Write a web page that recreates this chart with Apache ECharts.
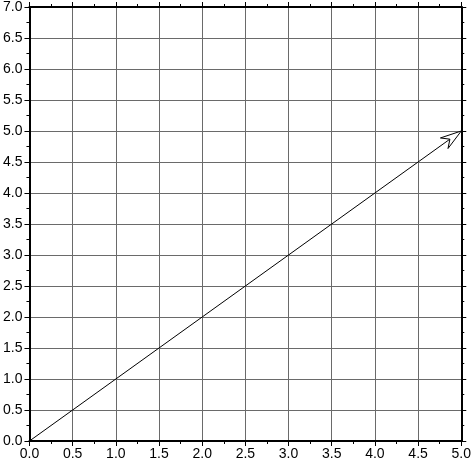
<!DOCTYPE html>
<html>
<head>
<meta charset="utf-8">
<script src="https://cdn.jsdelivr.net/npm/echarts@6/dist/echarts.min.js"></script>
<style>
html,body{margin:0;padding:0;background:#fff;}
#c{width:474px;height:462px;}
</style>
</head>
<body>
<div id="c"></div>
<script>
// Data
const xRange = [0, 5];
const yRange = [0, 7];
const tickStep = 0.5;
const vecStart = [0, 0];
const vecEnd = [5, 5];

const chart = echarts.init(document.getElementById('c'), null, {renderer: 'canvas'});
const font = {fontFamily: 'Liberation Sans, Arial, sans-serif', fontSize: 14, color: '#000'};

function axisBase(type, pos, showLabel, min, max, margin) {
  return {
    type: 'value',
    position: pos,
    min: min, max: max, interval: tickStep,
    axisLine: {show: true, onZero: false, lineStyle: {color: '#000', width: 2}},
    axisTick: {show: true, inside: false, length: 5, lineStyle: {color: '#000', width: 1}},
    minorTick: {show: true, splitNumber: 2, length: 3, lineStyle: {color: '#000', width: 1}},
    splitLine: {show: showLabel, lineStyle: {color: '#6a6a6a', width: 1}},
    axisLabel: Object.assign({show: showLabel, margin: margin, showMinLabel: true, showMaxLabel: true,
      formatter: v => v.toFixed(1)}, font)
  };
}

const option = {
  animation: false,
  backgroundColor: '#fff',
  grid: {left: 29, right: 9, top: 6, bottom: 21, containLabel: false},
  xAxis: [
    axisBase('x', 'bottom', true, xRange[0], xRange[1], 6),
    axisBase('x', 'top', false, xRange[0], xRange[1], 6)
  ],
  yAxis: [
    axisBase('y', 'left', true, yRange[0], yRange[1], 7),
    axisBase('y', 'right', false, yRange[0], yRange[1], 7)
  ],
  series: [{
    type: 'custom',
    xAxisIndex: 0, yAxisIndex: 0,
    clip: false,
    encode: {x: [0, 2], y: [1, 3]},
    data: [[vecStart[0], vecStart[1], vecEnd[0], vecEnd[1]]],
    renderItem: function (params, api) {
      const p0 = api.coord([api.value(0), api.value(1)]);
      const p1 = api.coord([api.value(2), api.value(3)]);
      const dx = p1[0] - p0[0], dy = p1[1] - p0[1];
      const len = Math.sqrt(dx * dx + dy * dy);
      const ux = dx / len, uy = dy / len;
      const nx = -uy, ny = ux;
      const L = 21, W = 6.5, N = 14;
      const b1 = [p1[0] - L * ux + W * nx, p1[1] - L * uy + W * ny];
      const b2 = [p1[0] - L * ux - W * nx, p1[1] - L * uy - W * ny];
      const nt = [p1[0] - N * ux, p1[1] - N * uy];
      return {
        type: 'group',
        children: [
          {type: 'line', shape: {x1: p0[0], y1: p0[1], x2: nt[0], y2: nt[1]},
           style: {stroke: '#000', lineWidth: 1}},
          {type: 'polygon', shape: {points: [p1, b1, nt, b2]},
           style: {fill: '#fff', stroke: '#000', lineWidth: 1}}
        ]
      };
    }
  }]
};
chart.setOption(option);
</script>
</body>
</html>
